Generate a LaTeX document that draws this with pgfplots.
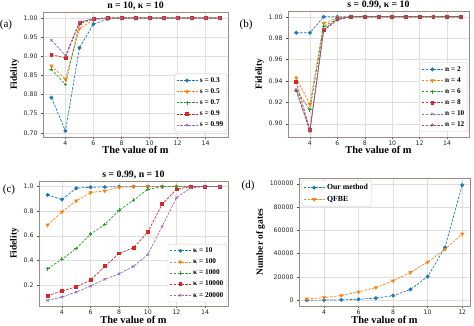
\documentclass[border=0pt]{standalone}
\usepackage{fontspec}
\setmainfont{Liberation Serif}
\newfontfamily\dejavu{DejaVu Sans}
\usepackage{pgfplots}
\pgfplotsset{compat=1.18}
\definecolor{tb}{HTML}{1F77B4}
\definecolor{to}{HTML}{FF7F0E}
\definecolor{tg}{HTML}{2CA02C}
\definecolor{tr}{HTML}{D62728}
\definecolor{tp}{HTML}{9467BD}
\definecolor{tn}{HTML}{8C564B}
\definecolor{frame}{HTML}{9A8A80}
\pgfplotsset{
  base/.style={
    scale only axis, anchor=south west,
    axis line style={frame, line width=0.6pt},
    grid=major, grid style={gray!25, line width=0.4pt},
    tick align=outside, major tick length=2pt,
    tick style={black!70, line width=0.4pt},
    xtick pos=bottom, ytick pos=left,
    /pgf/number format/assume math mode=true,
    ticklabel style={font=\dejavu\fontsize{6.2}{7}\selectfont, text=black!85},
    xticklabel style={inner sep=1.5pt},
    every axis title/.style={font=\bfseries\fontsize{9.8}{11}\selectfont, at={(0.5,1)}, anchor=base, yshift=3pt},
    xlabel style={font=\bfseries\fontsize{10.4}{12}\selectfont, at={(0.5,0)}, anchor=base, yshift=-17pt},
    ylabel style={font=\bfseries\fontsize{9.4}{11}\selectfont, yshift=-2pt},
    xlabel={The value of m},
    legend style={font=\bfseries\fontsize{7.3}{8.8}\selectfont, draw=gray!40, rounded corners=1.5pt, fill=white, inner sep=1.5pt, row sep=0.8pt},
    legend cell align=left,
    legend image code/.code={\draw[mark repeat=2,mark phase=2] plot coordinates {(0cm,0cm)(0.37cm,0cm)(0.74cm,0cm)};},
    every axis plot/.append style={line width=0.7pt, dash pattern=on 2.6pt off 1.3pt, mark size=1.6pt, mark options={solid}},
  },
  mb/.style={tb, mark=*},
  mo/.style={to, mark=triangle*, mark options={solid, rotate=180, scale=1.1}},
  mg/.style={tg, mark=+, mark options={solid, line width=1.1pt, scale=1.2}},
  mr/.style={tr, mark=square*, mark options={solid, scale=0.9}},
  mp/.style={tp, mark=x, mark options={solid, scale=1}},
  mn/.style={tn, mark=star, mark options={solid, scale=1}},
}
\begin{document}
\begin{tikzpicture}[x=1pt,y=1pt]
\path[use as bounding box] (0,0) rectangle (474,326);
% (a)
\begin{axis}[base, at={(43pt,189pt)}, width=185pt, height=125pt,
  xmin=2.4, xmax=15.6, ymin=0.689, ymax=1.0157,
  xtick={4,6,...,14}, ytick={0.70,0.75,...,1.00},
  yticklabel style={/pgf/number format/.cd, fixed, fixed zerofill, precision=2},
  title={n = 10, κ = 10}, ylabel={Fidelity},
  legend pos=south east, legend style={at={(0.995,0.04)}}]
\addplot[mb] coordinates {(3,0.792)(4,0.705)(5,0.922)(6,0.984)(7,0.997)(8,1.0)(9,1.0)(10,1.0)(11,1.0)(12,1.0)(13,1.0)(14,1.0)(15,1.0)};
\addplot[mo] coordinates {(3,0.875)(4,0.840)(5,0.972)(6,0.995)(7,0.999)(8,1.0)(9,1.0)(10,1.0)(11,1.0)(12,1.0)(13,1.0)(14,1.0)(15,1.0)};
\addplot[mg] coordinates {(3,0.866)(4,0.826)(5,0.985)(6,0.997)(7,1.0)(8,1.0)(9,1.0)(10,1.0)(11,1.0)(12,1.0)(13,1.0)(14,1.0)(15,1.0)};
\addplot[mr] coordinates {(3,0.904)(4,0.896)(5,0.988)(6,0.998)(7,1.0)(8,1.0)(9,1.0)(10,1.0)(11,1.0)(12,1.0)(13,1.0)(14,1.0)(15,1.0)};
\addplot[mp] coordinates {(3,0.942)(4,0.902)(5,0.990)(6,0.998)(7,1.0)(8,1.0)(9,1.0)(10,1.0)(11,1.0)(12,1.0)(13,1.0)(14,1.0)(15,1.0)};
\legend{s = 0.3, s = 0.5, s = 0.7, s = 0.9, s = 0.99}
\end{axis}
% (b)
\begin{axis}[base, at={(288pt,189pt)}, width=181pt, height=126pt,
  xmin=2.4, xmax=15.6, ymin=0.8876, ymax=1.0054,
  xtick={4,6,...,14}, ytick={0.90,0.92,...,1.00},
  yticklabel style={/pgf/number format/.cd, fixed, fixed zerofill, precision=2},
  title={s = 0.99, κ = 10}, ylabel={Fidelity},
  legend pos=south east, legend style={at={(0.995,0.04)}}]
\addplot[mb] coordinates {(3,0.985)(4,0.985)(5,1.0)(6,1.0)(7,1.0)(8,1.0)(9,1.0)(10,1.0)(11,1.0)(12,1.0)(13,1.0)(14,1.0)(15,1.0)};
\addplot[mo] coordinates {(3,0.943)(4,0.918)(5,0.994)(6,0.999)(7,1.0)(8,1.0)(9,1.0)(10,1.0)(11,1.0)(12,1.0)(13,1.0)(14,1.0)(15,1.0)};
\addplot[mg] coordinates {(3,0.931)(4,0.913)(5,0.991)(6,0.998)(7,1.0)(8,1.0)(9,1.0)(10,1.0)(11,1.0)(12,1.0)(13,1.0)(14,1.0)(15,1.0)};
\addplot[mr] coordinates {(3,0.939)(4,0.894)(5,0.988)(6,0.998)(7,1.0)(8,1.0)(9,1.0)(10,1.0)(11,1.0)(12,1.0)(13,1.0)(14,1.0)(15,1.0)};
\addplot[mp] coordinates {(3,0.932)(4,0.894)(5,0.988)(6,0.998)(7,1.0)(8,1.0)(9,1.0)(10,1.0)(11,1.0)(12,1.0)(13,1.0)(14,1.0)(15,1.0)};
\addplot[mn] coordinates {(3,0.931)(4,0.893)(5,0.987)(6,0.997)(7,1.0)(8,1.0)(9,1.0)(10,1.0)(11,1.0)(12,1.0)(13,1.0)(14,1.0)(15,1.0)};
\legend{n = 2, n = 4, n = 6, n = 8, n = 10, n = 12}
\end{axis}
% (c)
\begin{axis}[base, at={(39pt,20pt)}, width=189pt, height=125pt,
  xmin=2.4, xmax=15.6, ymin=0.027, ymax=1.046,
  xtick={4,6,...,14}, ytick={0.2,0.4,...,1.0},
  yticklabel style={/pgf/number format/.cd, fixed, fixed zerofill, precision=1},
  title={s = 0.99, n = 10}, ylabel={Fidelity},
  xlabel style={yshift=-0.5pt},
  legend pos=south east, legend style={at={(0.995,0.03)}}]
\addplot[mb] coordinates {(3,0.933)(4,0.895)(5,0.987)(6,0.995)(7,0.997)(8,1.0)(9,1.0)(10,1.0)(11,1.0)(12,1.0)(13,1.0)(14,1.0)(15,1.0)};
\addplot[mo] coordinates {(3,0.688)(4,0.795)(5,0.884)(6,0.952)(7,0.965)(8,0.995)(9,1.0)(10,1.0)(11,1.0)(12,1.0)(13,1.0)(14,1.0)(15,1.0)};
\addplot[mg] coordinates {(3,0.332)(4,0.407)(5,0.496)(6,0.614)(7,0.692)(8,0.808)(9,0.890)(10,0.978)(11,1.0)(12,1.0)(13,1.0)(14,1.0)(15,1.0)};
\addplot[mr] coordinates {(3,0.111)(4,0.149)(5,0.184)(6,0.238)(7,0.351)(8,0.456)(9,0.502)(10,0.630)(11,0.857)(12,0.978)(13,1.0)(14,1.0)(15,1.0)};
\addplot[mp] coordinates {(3,0.073)(4,0.100)(5,0.140)(6,0.190)(7,0.245)(8,0.290)(9,0.350)(10,0.447)(11,0.676)(12,0.910)(13,0.990)(14,1.0)(15,1.0)};
\legend{κ = 10, κ = 100, κ = 1000, κ = 10000, κ = 20000}
\end{axis}
% (d)
\begin{axis}[base, at={(299pt,20pt)}, width=171pt, height=128pt,
  xmin=2.55, xmax=12.45, ymin=-4900, ymax=104900,
  xtick={4,6,...,12}, ytick={0,20000,...,100000},
  scaled y ticks=false,
  yticklabel style={/pgf/number format/.cd, fixed, 1000 sep={}},
  ylabel={Number of gates},
  xlabel style={yshift=-0.5pt},
  legend pos=north west, legend style={at={(0.015,0.98)}, font=\bfseries\fontsize{7.8}{9.5}\selectfont}]
\addplot[mb] coordinates {(3,80)(4,180)(5,400)(6,850)(7,1800)(8,4000)(9,9300)(10,20300)(11,45300)(12,98800)};
\addplot[mo] coordinates {(3,1150)(4,2300)(5,4100)(6,7200)(7,10900)(8,16700)(9,23900)(10,32800)(11,43800)(12,56900)};
\legend{Our method, QFBE}
\end{axis}
\node[font=\fontsize{11}{12}\selectfont] at (6,301) {(a)};
\node[font=\fontsize{11}{12}\selectfont] at (246,301) {(b)};
\node[font=\fontsize{11}{12}\selectfont] at (9,136) {(c)};
\node[font=\fontsize{11}{12}\selectfont] at (248,140) {(d)};
\end{tikzpicture}
\end{document}
